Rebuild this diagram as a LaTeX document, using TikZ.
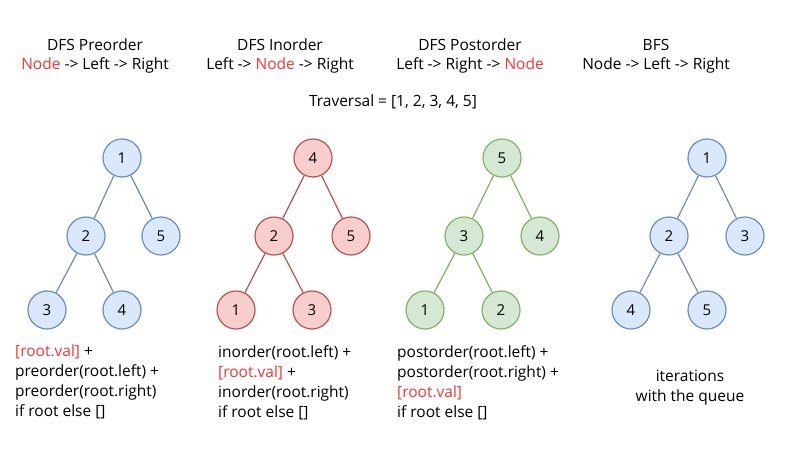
\documentclass[tikz,border=0pt]{standalone}
\usepackage{fontspec}
\setmainfont{Open Sans}
\definecolor{bf}{HTML}{DAE8FC}\definecolor{bs}{HTML}{6C8EBF}
\definecolor{rf}{HTML}{F8CECC}\definecolor{rs}{HTML}{B85450}
\definecolor{gf}{HTML}{D5E8D4}\definecolor{gs}{HTML}{82B366}
\definecolor{hl}{HTML}{FF3333}
\begin{document}
\begin{tikzpicture}[x=1pt,y=-1pt,
  nd/.style={circle,line width=1.2pt,minimum size=38pt,inner sep=0pt,font=\fontsize{15}{17}\selectfont},
  bn/.style={nd,draw=bs,fill=bf},
  rn/.style={nd,draw=rs,fill=rf},
  gn/.style={nd,draw=gs,fill=gf},
  be/.style={draw=bs,line width=1.2pt},
  re/.style={draw=rs,line width=1.2pt},
  ge/.style={draw=gs,line width=1.2pt},
  txt/.style={font=\fontsize{15.5}{17}\selectfont,inner sep=0pt},
  code/.style={font=\fontsize{15.5}{20}\selectfont,align=left,anchor=north west,inner sep=0pt}]
\useasboundingbox (0,0) rectangle (800,450);
\node[txt] (h1a) at (95,45) {DFS Preorder};
\node[txt] (h1b) at (95,65) {\textcolor{hl}{Node} -> Left -> Right};
\node[txt] (h2a) at (280,45) {DFS Inorder};
\node[txt] (h2b) at (280,65) {Left -> \textcolor{hl}{Node} -> Right};
\node[txt] (h3a) at (470,45) {DFS Postorder};
\node[txt] (h3b) at (470,65) {Left -> Right -> \textcolor{hl}{Node}};
\node[txt] (h4a) at (656,45) {BFS};
\node[txt] (h4b) at (656,65) {Node -> Left -> Right};
\node[txt] (trav) at (393,102) {Traversal = [1, 2, 3, 4, 5]};
% tree 1
\node[bn] (a1) at (122,158) {1};
\node[bn] (a2) at (86,236) {2};
\node[bn] (a5) at (161,236) {5};
\node[bn] (a3) at (47,310) {3};
\node[bn] (a4) at (122,310) {4};
\draw[be] (a1)--(a2) (a1)--(a5) (a2)--(a3) (a2)--(a4);
% tree 2
\node[rn] (b4) at (313,158) {4};
\node[rn] (b2) at (274,236) {2};
\node[rn] (b5) at (351,236) {5};
\node[rn] (b1) at (236,310) {1};
\node[rn] (b3) at (312,310) {3};
\draw[re] (b4)--(b2) (b4)--(b5) (b2)--(b1) (b2)--(b3);
% tree 3
\node[gn] (c5) at (502,158) {5};
\node[gn] (c3) at (464,236) {3};
\node[gn] (c4) at (540,236) {4};
\node[gn] (c1) at (425,310) {1};
\node[gn] (c2) at (501,310) {2};
\draw[ge] (c5)--(c3) (c5)--(c4) (c3)--(c1) (c3)--(c2);
% tree 4
\node[bn] (d1) at (707,158) {1};
\node[bn] (d2) at (669,236) {2};
\node[bn] (d3) at (745,236) {3};
\node[bn] (d4) at (631,310) {4};
\node[bn] (d5) at (707,310) {5};
\draw[be] (d1)--(d2) (d1)--(d3) (d2)--(d4) (d2)--(d5);
% code
\node[code] (k1) at (15,345) {\textcolor{hl}{[root.val]} +\\preorder(root.left) +\\preorder(root.right)\\if root else []};
\node[code] (k2) at (218,345) {inorder(root.left) +\\\textcolor{hl}{[root.val]} +\\inorder(root.right)\\if root else []};
\node[code] (k3) at (397,345) {postorder(root.left) +\\postorder(root.right) +\\\textcolor{hl}{[root.val]}\\if root else []};
\node[font=\fontsize{15.5}{20}\selectfont,align=center,inner sep=0pt] (k4) at (690,388) {iterations\\with the queue};
\end{tikzpicture}
\end{document}
